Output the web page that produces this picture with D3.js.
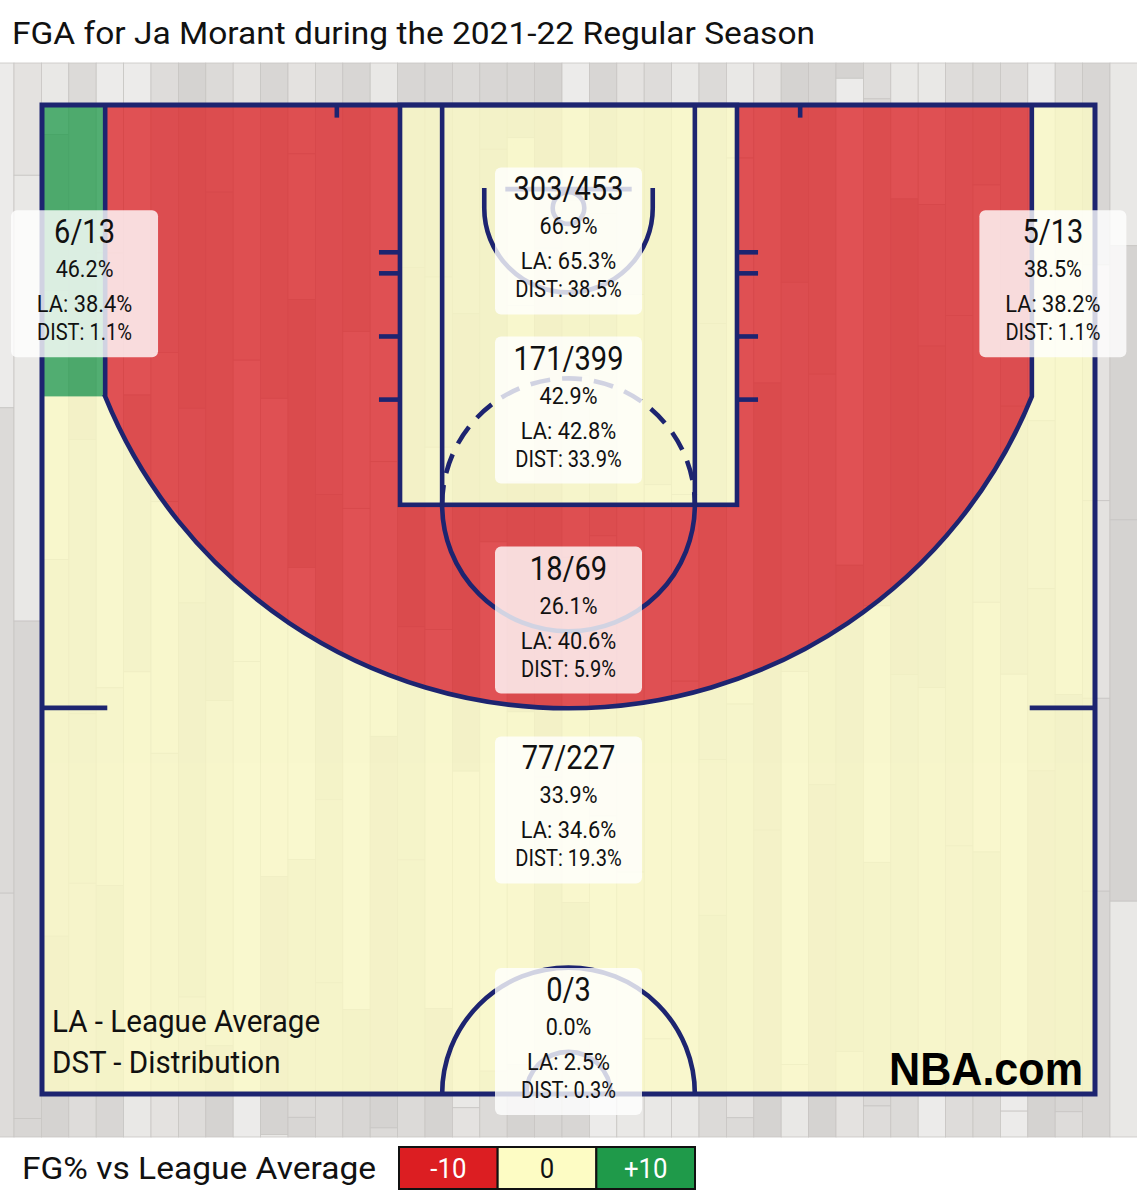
<!DOCTYPE html>
<html><head><meta charset="utf-8">
<script src="https://cdn.jsdelivr.net/npm/d3@7"></script>
<style>body{margin:0;background:#fff;} svg text{font-family:Roboto,"Noto Sans",sans-serif;}</style>
</head><body><svg id="c" width="1137" height="1200"></svg>
<script>
// ---------- DATA ----------
const zoneNames = ["Restricted Area","In The Paint (Non-RA)","Mid-Range","Left Corner 3","Right Corner 3","Above the Break 3","Backcourt"];
const zoneMade  = [303,171,18,6,5,77,0];
const zoneAtt   = [453,399,69,13,13,227,3];
const zonePct   = [66.9,42.9,26.1,46.2,38.5,33.9,0.0];
const zoneLA    = [65.3,42.8,40.6,38.4,38.2,34.6,2.5];
const zoneDist  = [38.5,33.9,5.9,1.1,1.1,19.3,0.3];
const legendTicks = ["-10","0","+10"];
const legendColors = ["#dc1e22","#fdfcc4","#1f9a4a"];
const titleText = "FGA for Ja Morant during the 2021-22 Regular Season";

// ---------- LAYOUT ----------
const W=1137,H=1200;
const svg=d3.select("#c");
const x=d3.scaleLinear().domain([-25,25]).range([42,1095]);
const y=d3.scaleLinear().domain([0,47]).range([105,1094]);
const k=x(1)-x(0);
const hoopY=4.9, R3=23.75, C3=22, cornerY=hoopY+Math.sqrt(R3*R3-C3*C3);
const labelPos={ "Restricted Area":[0,6.46], "In The Paint (Non-RA)":[0,14.5], "Mid-Range":[0,24.48],
  "Left Corner 3":[-22.98,8.5], "Right Corner 3":[23.0,8.5], "Above the Break 3":[0,33.5], "Backcourt":[0,44.5]};
const color=d3.scaleThreshold().domain([-5,5]).range(legendColors);
const NAVY="#1d2470";

function condense(sel,f){ sel.each(function(d){const ff=(typeof f==="function")?f(d):f;const L=this.getComputedTextLength(); d3.select(this).attr("textLength",L*ff).attr("lengthAdjust","spacingAndGlyphs");}); }

// ---------- wood floor ----------
function rnd(i){const s=Math.sin(i*127.1+311.7)*43758.5453;return s-Math.floor(s);}
const floor=svg.append("g");
const shades=["#d8d6d4","#dedcda","#e4e2e0","#e9e8e6","#d5d3d1","#ecebea","#dcdad8"];
floor.append("rect").attr("x",0).attr("y",63).attr("width",W).attr("height",1137-63).attr("fill","#e0dedc");
let idx=0;
for(let c=0;c<44;c++){
  const x0=14+(c-1)*27.4;
  let yy=63-rnd(c*7+1)*300;
  while(yy<1137){
    const len=140+rnd(idx*3+5)*420;
    const y0=Math.max(63,yy), y1=Math.min(1137,yy+len);
    if(y1>y0) floor.append("rect").attr("x",x0).attr("y",y0).attr("width",27.4).attr("height",y1-y0)
      .attr("fill",shades[Math.floor(rnd(idx*5+2)*shades.length)]).attr("stroke","#c8c6c4").attr("stroke-width",0.8);
    yy+=len; idx++;
  }
}

// ---------- zones ----------
const zg=svg.append("g").attr("opacity",0.75);
const zi=n=>zoneNames.indexOf(n);
const zc=n=>{const i=zi(n);return color(zonePct[i]-zoneLA[i]);};
zg.append("rect").attr("x",x(-25)).attr("y",y(0)).attr("width",x(25)-x(-25)).attr("height",y(47)-y(0)).attr("fill",zc("Above the Break 3"));
zg.append("rect").attr("x",x(-25)).attr("y",y(0)).attr("width",x(-22)-x(-25)).attr("height",y(cornerY)-y(0)).attr("fill",zc("Left Corner 3"));
zg.append("rect").attr("x",x(22)).attr("y",y(0)).attr("width",x(25)-x(22)).attr("height",y(cornerY)-y(0)).attr("fill",zc("Right Corner 3"));
const aL=Math.atan2(y(cornerY)-y(hoopY),x(-C3)-x(0)), aR=Math.atan2(y(cornerY)-y(hoopY),x(C3)-x(0));
function threePath(close){const p=d3.path();p.moveTo(x(-C3),y(0));p.lineTo(x(-C3),y(cornerY));p.arc(x(0),y(hoopY),R3*k,aL,aR,true);p.lineTo(x(C3),y(0));if(close)p.closePath();return p.toString();}
zg.append("path").attr("d",threePath(true)).attr("fill",zc("Mid-Range"));
zg.append("rect").attr("x",x(-8)).attr("y",y(0)).attr("width",x(8)-x(-8)).attr("height",y(19)-y(0)).attr("fill",zc("In The Paint (Non-RA)"));
zg.append("circle").attr("cx",x(0)).attr("cy",y(hoopY)).attr("r",4*k).attr("fill",zc("Restricted Area"));

// ---------- court lines ----------
const lg=svg.append("g").attr("fill","none").attr("stroke",NAVY).attr("stroke-width",4.6);
lg.append("rect").attr("x",x(-25)).attr("y",y(0)).attr("width",x(25)-x(-25)).attr("height",y(47)-y(0)).attr("stroke-width",5);
lg.append("path").attr("d",threePath(false));
lg.append("rect").attr("x",x(-8)).attr("y",y(0)).attr("width",x(8)-x(-8)).attr("height",y(19)-y(0));
[-6,6].forEach(v=>lg.append("line").attr("x1",x(v)).attr("x2",x(v)).attr("y1",y(0)).attr("y2",y(19)));
[7,8,11,14].forEach(v=>{
  lg.append("line").attr("x1",x(-9)).attr("x2",x(-8)).attr("y1",y(v)).attr("y2",y(v));
  lg.append("line").attr("x1",x(8)).attr("x2",x(9)).attr("y1",y(v)).attr("y2",y(v));
});
[-11,11].forEach(v=>lg.append("line").attr("x1",x(v)).attr("x2",x(v)).attr("y1",y(0)).attr("y2",y(0.6)));
lg.append("line").attr("x1",x(-25)).attr("x2",x(-21.9)).attr("y1",y(28.65)).attr("y2",y(28.65));
lg.append("line").attr("x1",x(21.9)).attr("x2",x(25)).attr("y1",y(28.65)).attr("y2",y(28.65));
{const p=d3.path();p.arc(x(0),y(19),6*k,Math.PI,0,true);lg.append("path").attr("d",p.toString());}
{const p=d3.path();p.arc(x(0),y(19),6*k,Math.PI,2*Math.PI,false);lg.append("path").attr("d",p.toString()).attr("stroke-dasharray","20,12");}
{const p=d3.path();p.moveTo(x(-4),y(3.95));p.lineTo(x(-4),y(hoopY));p.arc(x(0),y(hoopY),4*k,Math.PI,0,true);p.lineTo(x(4),y(3.95));lg.append("path").attr("d",p.toString());}
lg.append("line").attr("x1",x(-3)).attr("x2",x(3)).attr("y1",y(4.0)).attr("y2",y(4.0));
lg.append("line").attr("x1",x(0)).attr("x2",x(0)).attr("y1",y(4.0)).attr("y2",y(4.15));
lg.append("circle").attr("cx",x(0)).attr("cy",y(4.9)).attr("r",0.75*k);
{const p=d3.path();p.arc(x(0),y(47),6*k,Math.PI,2*Math.PI,false);lg.append("path").attr("d",p.toString());}
{const p=d3.path();p.arc(x(0),y(47),2*k,Math.PI,2*Math.PI,false);lg.append("path").attr("d",p.toString());}

// ---------- labels ----------
const BOX=147;
const labels=svg.append("g").selectAll("g").data(zoneNames).join("g")
  .attr("transform",n=>`translate(${x(labelPos[n][0])},${y(labelPos[n][1])})`);
labels.append("rect").attr("x",-BOX/2).attr("y",-BOX/2).attr("width",BOX).attr("height",BOX).attr("rx",6)
  .attr("fill","#fff").attr("fill-opacity",0.8);
const lines=(n)=>{const i=zi(n);return [
  {t:`${zoneMade[i]}/${zoneAtt[i]}`,dy:-40.5,fs:33,f:0.88},
  {t:`${zonePct[i].toFixed(1)}%`,dy:-6.5,fs:24.5,f:0.88},
  {t:`LA: ${zoneLA[i].toFixed(1)}%`,dy:28.5,fs:24.5,f:0.89},
  {t:`DIST: ${zoneDist[i].toFixed(1)}%`,dy:56.5,fs:24.5,f:0.82}];};
labels.selectAll("text").data(n=>lines(n)).join("text")
  .attr("text-anchor","middle").attr("y",d=>d.dy).attr("font-size",d=>d.fs).attr("fill","#111").text(d=>d.t)
  .call(condense,d=>d.f);

// ---------- annotations ----------
svg.append("text").attr("x",52).attr("y",1032).attr("font-size",32).attr("fill","#111").text("LA - League Average").call(condense,0.924);
svg.append("text").attr("x",52).attr("y",1073).attr("font-size",32).attr("fill","#111").text("DST - Distribution").call(condense,0.924);
svg.append("text").attr("x",1083).attr("y",1085).attr("text-anchor","end").attr("font-size",46).attr("font-weight","bold")
  .style("font-family","'Liberation Sans',Arial,sans-serif").attr("fill","#000").text("NBA.com").attr("textLength",194).attr("lengthAdjust","spacingAndGlyphs");
svg.append("text").attr("x",12).attr("y",44).attr("font-size",32).attr("fill","#111").text(titleText).attr("textLength",803).attr("lengthAdjust","spacingAndGlyphs");

// ---------- bottom legend ----------
svg.append("text").attr("x",22).attr("y",1179).attr("font-size",32).attr("fill","#111").text("FG% vs League Average").attr("textLength",354).attr("lengthAdjust","spacingAndGlyphs");
const band=d3.scaleBand().domain(legendTicks).range([399,695]);
const leg=svg.append("g");
leg.selectAll("rect").data(legendTicks).join("rect").attr("x",d=>band(d)).attr("y",1147).attr("width",band.bandwidth()).attr("height",42)
  .attr("fill",(d,i)=>legendColors[i]).attr("stroke","#111").attr("stroke-width",2);
leg.selectAll("text").data(legendTicks).join("text").attr("x",d=>band(d)+band.bandwidth()/2).attr("y",1178).attr("text-anchor","middle")
  .attr("font-size",28).attr("fill",(d,i)=>i===1?"#111":"#fff").text(d=>d).call(condense,0.92);
</script></body></html>
